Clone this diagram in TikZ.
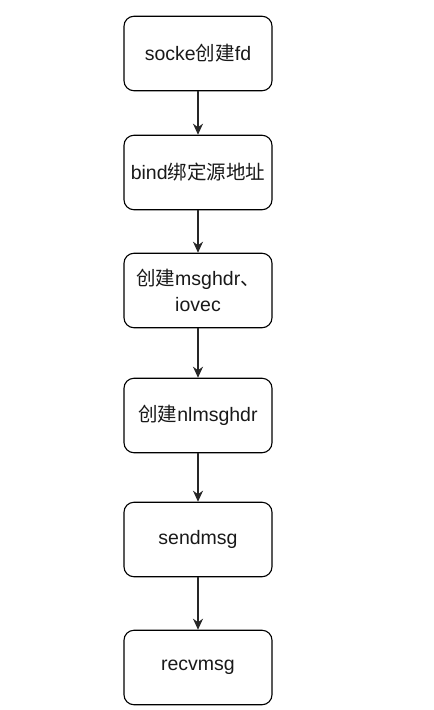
\documentclass[tikz,border=0pt]{standalone}
\usepackage{fontspec}
\setmainfont{Liberation Sans}
\newfontfamily\cjk{Noto Sans CJK SC}
\usetikzlibrary{arrows.meta}
\tikzset{
  stepbox/.style={draw=black, line width=1.1pt, rounded corners=10pt, minimum width=148pt, minimum height=74.5pt, inner sep=0pt, align=center, font=\fontsize{19.5}{25.5}\selectfont, text=black!90},
  flow/.style={draw=black!85, line width=1.1pt, -{Stealth[length=11pt,width=10pt,inset=3.5pt]}}
}
\begin{document}
\begin{tikzpicture}[x=1pt,y=-1pt]
\useasboundingbox (0,0) rectangle (434,710);
\node[stepbox] (a) at (198,53.5) {socke{\cjk 创建}fd};
\node[stepbox] (b) at (198,172.5) {bind{\cjk 绑定源地址}};
\node[stepbox] (c) at (198,290.5) {{\cjk 创建}msghdr{\cjk 、}\\iovec};
\node[stepbox] (d) at (198,415.5) {{\cjk 创建}nlmsghdr};
\node[stepbox] (e) at (198,539.5) {sendmsg};
\node[stepbox] (f) at (198,667.5) {recvmsg};
\draw[flow] (a) -- (b);
\draw[flow] (b) -- (c);
\draw[flow] (c) -- (d);
\draw[flow] (d) -- (e);
\draw[flow] (e) -- (f);
\end{tikzpicture}
\end{document}
